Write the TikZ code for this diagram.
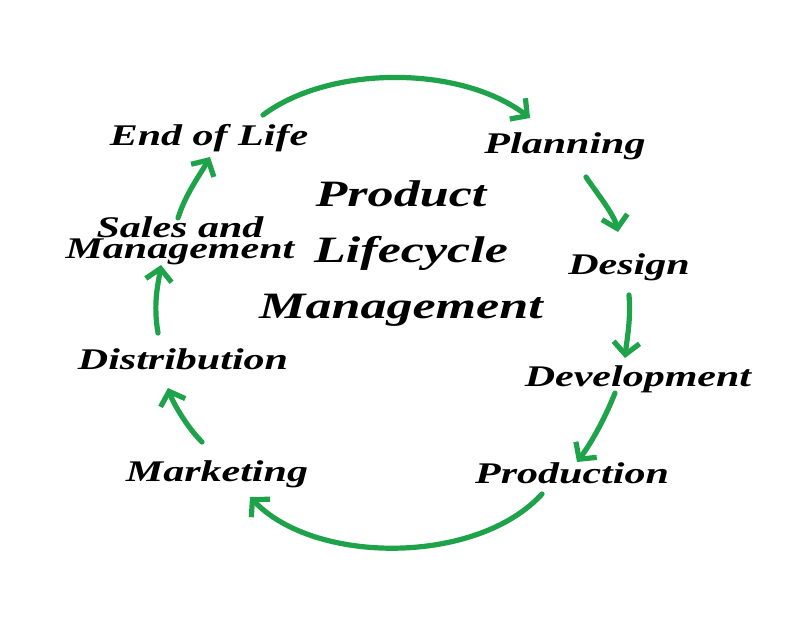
\documentclass[tikz,border=0pt]{standalone}
\usepackage{fontspec}
\newfontfamily\lblfont[FakeStretch=1.4]{Liberation Serif}
\usetikzlibrary{arrows.meta,calc}
\definecolor{cycgreen}{RGB}{30,163,74}

\begin{document}
\begin{tikzpicture}[
		x=0.5pt, y=-0.5pt,
		L/.style = {anchor=base, inner sep=0pt,% stage names round the cycle
			font=\lblfont\bfseries\itshape\fontsize{15}{18}\selectfont},
		T/.style = {align=center, inner sep=0pt,
			font=\lblfont\bfseries\itshape\fontsize{18.6}{28}\selectfont},
		A/.style = {draw=cycgreen, line width=2.6pt, line cap=round,
			-{Straight Barb[length=6pt,width=13pt]}},
		]
		\fill[white] (0,0) rectangle (800,622);
		\useasboundingbox (0,0) rectangle (800,622);
		\foreach \n/\x/\y/\t in {eol/209/145/End of Life, plan/565/153/Planning,
			des/629/274/Design, dev/638/386/Development, prod/572/483/Production,
			mark/217/481/Marketing, dist/183/369/Distribution}% <-- stages
		\node[L] (\n) at (\x,\y) {\t};
		\node[L, align=center, anchor=center] (sales) at (180,241) {Sales and\\[-7.5pt]Management};
		\node[T] (title) at (401,254) {Product\\\hspace*{10pt}Lifecycle\\Management};
		% cycle arrows
		\draw[A] ($(eol.base)+(54,-30)$) .. controls +(67,-50) and +(-70,-53) .. ($(plan.base)+(-35,-35)$);
		\draw[A] ($(plan.base)+(21,24)$) .. controls +(10,15) and +(-4,-18) .. ($(des.base)+(-11,-42)$);
		\draw[A] ($(des.base)+(0,21)$) .. controls +(2,25) and +(2,-20) .. ($(dev.base)+(-13,-28)$);
		\draw[A] ($(dev.base)+(-23,7)$) .. controls +(-10,25) and +(15,-20) .. ($(prod.base)+(5,-21)$);
		\draw[A] ($(prod.base)+(-30,11)$) .. controls +(-65,71) and +(65,68) .. ($(mark.base)+(33,16)$);
		\draw[A] ($(mark.base)+(-15,-39)$) .. controls +(-15,-15) and +(5,15) .. ($(dist.base)+(-15,19)$);
		\draw[A] ($(dist.base)+(-25,-36)$) .. controls +(-5,-30) and +(-3,20) .. ($(sales.center)+(-19,24)$);
		\draw[A] ($(sales.center)+(-2,-23)$) .. controls +(8,-25) and +(-10,18) .. ($(eol.base)+(1,12)$);
	\end{tikzpicture}
\end{document}
